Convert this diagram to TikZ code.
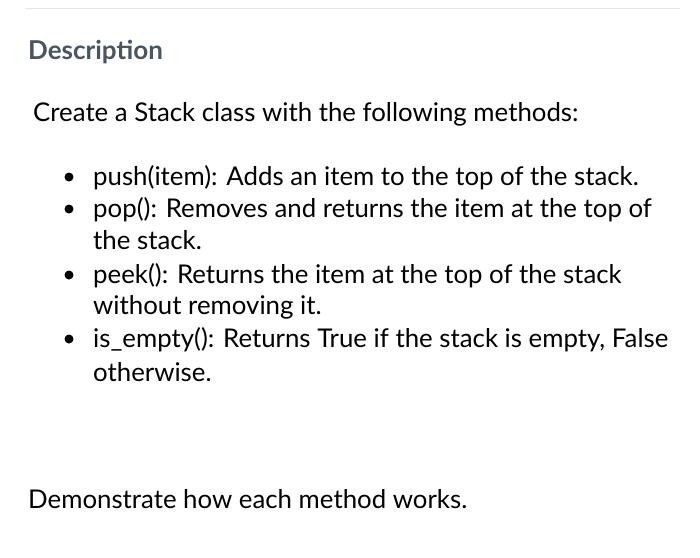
\documentclass[tikz,border=0pt]{standalone}
\usepackage{fontspec}
\setmainfont{Lato}
\usetikzlibrary{positioning}
\definecolor{headgray}{HTML}{4A5563}
\definecolor{rulegray}{HTML}{E6E6E6}
\begin{document}
\begin{tikzpicture}[x=1pt,y=-1pt,
  every node/.style={inner sep=0pt,anchor=base west},
  body/.style={font=\fontsize{25.8}{30}\selectfont,text=black},
  head/.style={font=\fontsize{26}{30}\selectfont\bfseries,text=headgray},
  bullet/.style={circle,fill=black,minimum size=9pt,inner sep=0pt,anchor=center}]
  \useasboundingbox[fill=white] (0,0) rectangle (700,557);
  \coordinate (ruleL) at (25,8);
  \coordinate (ruleR) at (680,8);
  \draw[rulegray,line width=1pt] (ruleL) -- (ruleR);

  % heading and intro
  \node[head] (title) at (28,59) {Description};
  \node[body] (intro) at (33,121) {Create a Stack class with the following methods:};

  % method list
  \foreach \y/\txt [count=\i] in {
    185/{push(item): Adds an item to the top of the stack.},
    217/{pop(): Removes and returns the item at the top of},
    283/{peek(): Returns the item at the top of the stack},
    347/{is\_empty(): Returns True if the stack is empty, False}}
  {
    \node[bullet] (b\i) at (69,\y-8) {};
    \node[body] (m\i) at (93,\y) {\txt};
  }
  \node[body] (m2b) at (93,249) {the stack.};
  \node[body] (m3b) at (93,314) {without removing it.};
  \node[body] (m4b) at (93,381) {otherwise.};

  \node[body] (demo) at (28,508) {Demonstrate how each method works.};
\end{tikzpicture}
\end{document}
